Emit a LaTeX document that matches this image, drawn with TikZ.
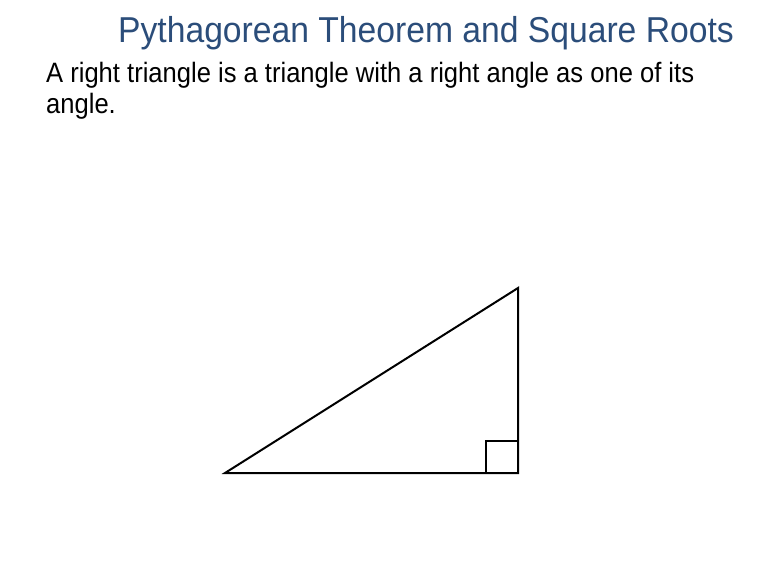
\documentclass[tikz,border=0pt]{standalone}
\usepackage{fontspec}
\setmainfont{Liberation Sans}
\newfontfamily\bodyfont[FakeStretch=0.913]{Liberation Sans}
\newfontfamily\titlefont[FakeStretch=0.935]{Liberation Sans}
\definecolor{titleblue}{RGB}{43,77,122}
\begin{document}
\begin{tikzpicture}[x=1pt,y=-1pt,
  titletext/.style={anchor=base west,inner sep=0pt,text=titleblue,font=\titlefont\fontsize{36}{40}\selectfont},
  bodytext/.style={anchor=base west,inner sep=0pt,font=\bodyfont\fontsize{28}{31}\selectfont},
  edge/.style={line width=2pt,line join=miter}]
\useasboundingbox[fill=white] (0,0) rectangle (768,576);
\node[titletext] (title) at (118,42) {Pythagorean Theorem and Square Roots};
\node[bodytext] (l1) at (46,82) {A right triangle is a triangle with a right angle as one of its};
\node[bodytext] (l2) at (46,113) {angle.};
\coordinate (A) at (225,473);
\coordinate (B) at (518,473);
\coordinate (C) at (518,288);
\draw[edge] (A) -- (B) -- (C) -- cycle;
\draw[edge] (486,473) -- (486,441) -- (518,441);
\end{tikzpicture}
\end{document}
